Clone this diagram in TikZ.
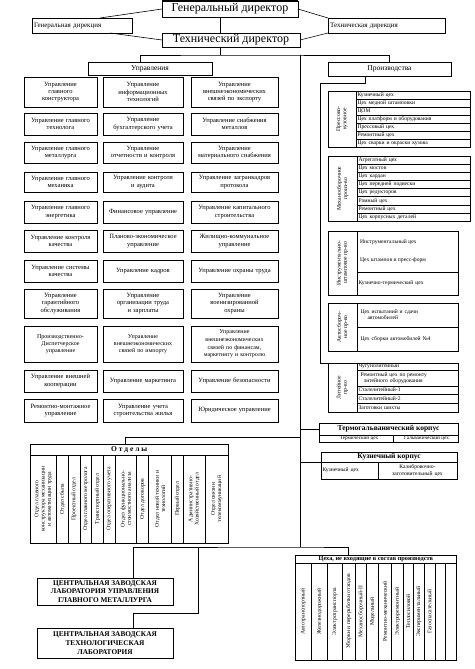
\documentclass[tikz,border=0pt]{standalone}
\usepackage{fontspec}
\setmainfont{Liberation Serif}
\newcommand\fs[2]{\fontsize{#1}{#2}\selectfont}
\tikzset{
  base/.style={draw, line width=0.6pt, inner sep=0pt, outer sep=0pt},
  mb/.style={base, line width=0.75pt, align=center, font=\fs{6.5}{7.4}},
  mca/.style={minimum width=73pt, text width=71pt},
  mcb/.style={minimum width=80pt, text width=78pt},
  mcc/.style={minimum width=87pt, text width=85pt},
  prow/.style={base, line width=0.45pt, anchor=north west, align=left, font=\fs{5.6}{6.2}, inner xsep=1.5pt},
  lcell/.style={base, line width=0.6pt, anchor=north west},
  vtext/.style={rotate=90, align=center, font=\fs{5.7}{6.3}},
  ttl/.style={base, anchor=north west, font=\bfseries\fs{7.5}{8}},
  conn/.style={line width=0.6pt},
}
\newcommand\vcol[6]{\node[lcell, line width=0.45pt, minimum width=#4, minimum height=#5] (#1) at (#2,#3) {};
  \node[vtext] at (#1.center) {#6};}
\begin{document}
\begin{tikzpicture}[x=1pt,y=-1pt]
\useasboundingbox (0,0) rectangle (474,669);
\fill[white] (0,0) rectangle (474,669);
\coordinate (vx) at (220,0);
\coordinate (ux) at (140,0);
\coordinate (sx) at (300,0);
\coordinate (px) at (365,0);
\coordinate (ox) at (125,0);
\coordinate (lx) at (133,0);
\coordinate (mx) at (198,0);
\coordinate (rx) at (348,0);
\coordinate (bus) at (220,55);
\coordinate (pk) at (320,83);
\coordinate (sp1) at (300,437);
\coordinate (sp2) at (300,547);
\coordinate (kn) at (198,613);

% top
\node[base, line width=0.8pt, minimum width=136pt, minimum height=16pt, font=\fs{12}{13}] (gd) at (230,9) {Генеральный директор};
\draw[line width=1.6pt] (gd.north west) -- (gd.north east);
\node[base, minimum width=100pt, minimum height=15pt, font=\fs{7}{8}, anchor=west, text width=96pt, inner xsep=2pt, align=left] (gdir) at (32,25.5) {Генеральная дирекция};
\node[base, minimum width=117pt, minimum height=15pt, font=\fs{7}{8}, anchor=west, text width=113pt, inner xsep=2pt, align=left] (tdir) at (328,25.5) {Техническая дирекция};
\node[base, minimum width=138pt, minimum height=14pt, font=\fs{12}{13}] (td) at (231,40) {Технический директор};
\draw[conn] (gd.west) -- ([xshift=18pt]gdir.north);
\draw[conn] ([xshift=28pt]gdir.south) -- (td.west);
\draw[conn] (gd.east) -- (tdir.north west);
\draw[conn] (tdir.south west) -- (td.east);
\draw[conn] (gd.south -| vx) -- (td.north -| vx);
\draw[conn] (td.south -| vx) -- (bus);

\node[base, minimum width=124pt, minimum height=13pt, font=\fs{7.5}{8}] (upr) at (150,68.5) {Управления};
\node[base, minimum width=123pt, minimum height=14pt, font=\fs{7.5}{8}] (prod) at (389.5,69) {Производства};
\draw[conn] (upr.north -| ux) |- (bus) -| (prod.north);
\draw[conn] (bus -| sx) -- (sp2);

% management boxes
\node[mb,mca,minimum height=30pt] (u1a) at (60.5,92) {Управление\\главного\\конструктора};
\node[mb,mcb,minimum height=30pt] (u1b) at (143,92) {Управление\\информационных\\технологий};
\node[mb,mcc,minimum height=30pt] (u1c) at (234.5,92) {Управление\\внешнеэкономических\\связей по экспорту};
\node[mb,mca,minimum height=22pt] (u2a) at (60.5,124) {Управление главного\\технолога};
\node[mb,mcb,minimum height=22pt] (u2b) at (143,124) {Управление\\бухгалтерского учета};
\node[mb,mcc,minimum height=22pt] (u2c) at (234.5,124) {Управление снабжения\\металлов};
\node[mb,mca,minimum height=21pt] (u3a) at (60.5,152.5) {Управление главного\\металлурга};
\node[mb,mcb,minimum height=21pt] (u3b) at (143,152.5) {Управление\\отчетности и контроля};
\node[mb,mcc,minimum height=21pt] (u3c) at (234.5,152.5) {Управление\\материального снабжения};
\node[mb,mca,minimum height=20pt] (u4a) at (60.5,182) {Управление главного\\механика};
\node[mb,mcb,minimum height=20pt] (u4b) at (143,182) {Управление контроля\\и аудита};
\node[mb,mcc,minimum height=20pt] (u4c) at (234.5,182) {Управление загранкадров\\протокола};
\node[mb,mca,minimum height=22pt] (u5a) at (60.5,212) {Управление главного\\энергетика};
\node[mb,mcb,minimum height=22pt] (u5b) at (143,212) {Финансовое управление};
\node[mb,mcc,minimum height=22pt] (u5c) at (234.5,212) {Управление капитального\\строительства};
\node[mb,mca,minimum height=22pt] (u6a) at (60.5,241) {Управление контроля\\качества};
\node[mb,mcb,minimum height=22pt] (u6b) at (143,241) {Планово-экономическое\\управление};
\node[mb,mcc,minimum height=22pt] (u6c) at (234.5,241) {Жилищно-коммунальное\\управление};
\node[mb,mca,minimum height=22pt] (u7a) at (60.5,271) {Управление системы\\качества};
\node[mb,mcb,minimum height=22pt] (u7b) at (143,271) {Управление кадров\\[5pt]};
\node[mb,mcc,minimum height=22pt] (u7c) at (234.5,271) {Управление охраны труда};
\node[mb,mca,minimum height=29pt] (u8a) at (60.5,303.5) {Управление\\гарантийного\\обслуживания};
\node[mb,mcb,minimum height=29pt] (u8b) at (143,303.5) {Управление\\организации труда\\и зарплаты};
\node[mb,mcc,minimum height=29pt] (u8c) at (234.5,303.5) {Управление\\военизированной\\охраны};
\node[mb,mca,minimum height=36pt,font=\fs{6}{7}] (u9a) at (60.5,344) {Производственно-\\Диспетчерское\\управление\\[6pt]};
\node[mb,mcb,minimum height=36pt,font=\fs{6}{7}] (u9b) at (143,344) {Управление\\внешнеэкономических\\связей по импорту\\[6pt]};
\node[mb,mcc,minimum height=36pt,font=\fs{6}{7.6}] (u9c) at (234.5,344) {Управление\\внешнеэкономических\\связей по финансам,\\маркетингу и контролю};
\node[mb,mca,minimum height=22pt] (u10a) at (60.5,381) {Управление внешней\\кооперации};
\node[mb,mcb,minimum height=22pt] (u10b) at (143,381) {Управление маркетинга\\[5pt]};
\node[mb,mcc,minimum height=22pt] (u10c) at (234.5,381) {Управление безопасности};
\node[mb,mca,minimum height=23pt] (u11a) at (60.5,410.5) {Ремонтно-монтажное\\управление};
\node[mb,mcb,minimum height=23pt] (u11b) at (143,410.5) {Управление учета\\строительства жилья};
\node[mb,mcc,minimum height=23pt] (u11c) at (234.5,410.5) {Юридическое управление\\[5pt]};

% production groups
\node[lcell, minimum width=28pt, minimum height=56pt] (ga) at (328,91) {};
\node[vtext] at (ga.center) {Прессово-\\кузовное};
\foreach \t [count=\i from 0] in {Кузнечный цех,Цех медной штамповки,ЦОМ,Цех платформ и оборудования,Прессовый цех,Ремонтный цех,Цех сварки и окраски кузова}
  \node[prow, text width=111pt, minimum width=114pt, minimum height=8pt] (pa\i) at (356,{91+8*\i}) {\t};

\node[lcell, minimum width=29pt, minimum height=65pt] (gb) at (328,156) {};
\node[vtext] at (gb.center) {Механосборочное\\произ-во};
\foreach \t [count=\i from 0] in {Агрегатный цех,Цех мостов,Цех кардан,Цех передней подвески,Цех редукторов,Рамный цех,Ремонтный цех,Цех корпусных деталей}
  \node[prow, text width=110pt, minimum width=113pt, minimum height=8.125pt] (pb\i) at (357,{156+8.125*\i}) {\t};

\node[lcell, minimum width=29pt, minimum height=64pt] (gc) at (328,231) {};
\node[vtext] at (gc.center) {Инструментально-\\штамповое пр-во};
\node[prow, text width=98pt, minimum width=101pt, minimum height=41pt] (pc0) at (357,231) {};
\node[font=\fs{5.6}{6.2}, anchor=west, inner sep=0pt] (pc0a) at (360,242) {Инструментальный цех};
\node[font=\fs{5.6}{6.2}, anchor=west, inner sep=0pt] (pc0b) at (360,260) {Цех штампов и пресс-форм};
\node[prow, text width=98pt, minimum width=101pt, minimum height=23pt] (pc1) at (357,272) {Кузнечно-термический цех};

\node[lcell, minimum width=29pt, minimum height=48pt] (gdd) at (328,303) {};
\node[vtext] at (gdd.center) {Автосбороч-\\ное пр-во};
\node[prow, text width=98pt, minimum width=101pt, minimum height=24pt] (pd0) at (357,303) {\hspace*{2pt}Цех испытаний и сдачи\\\hspace*{9pt}автомобилей};
\node[prow, text width=98pt, minimum width=101pt, minimum height=24pt] (pd1) at (357,327) {\hspace*{2pt}Цех сборки автомобилей №4};

\node[lcell, minimum width=29pt, minimum height=49pt] (ge) at (328,363) {};
\node[vtext] at (ge.center) {Литейное\\пр-во};
\node[prow, text width=98pt, minimum width=101pt, minimum height=7pt] (pe0) at (357,363) {Чугунолитейный};
\node[prow, text width=98pt, minimum width=101pt, minimum height=16pt] (pe1) at (357,370) {\hspace*{2pt}Ремонтный цех по ремонту\\\hspace*{5pt}литейного оборудования};
\node[prow, text width=98pt, minimum width=101pt, minimum height=8pt] (pe2) at (357,386) {Сталелитейный-1};
\node[prow, text width=98pt, minimum width=101pt, minimum height=9pt] (pe3) at (357,394) {Сталелитейный-2};
\node[prow, text width=98pt, minimum width=101pt, minimum height=9pt] (pe4) at (357,403) {Заготовки шихты};

\draw[conn] (prod.south -| px) |- (pk) |- (ge.north west);

% thermo and forge buildings
\node[ttl, minimum width=139pt, minimum height=12pt] (tgt) at (319,423) {Термогальванический корпус};
\node[prow, minimum width=74pt, minimum height=7pt, font=\fs{5.2}{5.5}] (tg1) at (319,435) {\hspace*{6pt}Термический цех};
\node[prow, minimum width=65pt, minimum height=7pt, font=\fs{5.2}{5.5}] (tg2) at (393,435) {\hspace*{2pt}Гальванический цех};
\draw[conn] (tgt.west -| sx) -- (tgt.west);

\node[ttl, minimum width=136pt, minimum height=10pt] (kzt) at (321,452) {Кузнечный корпус};
\node[prow, minimum width=57pt, minimum height=17pt, text width=54pt, font=\fs{5.6}{6}] (kz1) at (321,462) {Кузнечный цех\\[5pt]};
\node[prow, minimum width=79pt, minimum height=17pt, text width=76pt, align=center, font=\fs{5.6}{6.5}] (kz2) at (378,462) {Калибровочно-\\заготовительный цех};
\draw[conn] (kzt.south west -| sx) -- (kzt.south west);

% departments
\node[ttl, minimum width=198.3pt, minimum height=11pt] (ot) at (30,444) {О т д е л ы};
\draw[conn] (sp1) -| (ot.north -| ox);
\vcol{o1}{30}{455}{26.7pt}{88pt}{Отдел главного\\конструктора механизации\\и автоматизации труда}
\vcol{o2}{56.7}{455}{11.6pt}{88pt}{Отдел сбыта}
\vcol{o3}{68.3}{455}{11.7pt}{88pt}{Проектный отдел}
\vcol{o4}{80}{455}{11.7pt}{88pt}{Отдел главного метролога}
\vcol{o5}{91.7}{455}{11.6pt}{88pt}{Транспортный отдел}
\vcol{o6}{103.3}{455}{11.7pt}{88pt}{Отдел оперативного учета}
\vcol{o7}{115}{455}{21.7pt}{88pt}{Отдел функционально-\\стоимостного анализа}
\vcol{o8}{136.7}{455}{11.6pt}{88pt}{Отдел договоров}
\vcol{o9}{148.3}{455}{23.4pt}{88pt}{Отдел новой техники и\\технологий}
\vcol{o10}{171.7}{455}{11.6pt}{88pt}{Первый отдел}
\vcol{o11}{183.3}{455}{21.7pt}{88pt}{Административно-\\Хозяйственный отдел}
\vcol{o12}{205}{455}{23.3pt}{88pt}{Отдел связи и\\телекоммуникаций}

% laboratories
\node[base, minimum width=136pt, minimum height=27pt, align=center, font=\bfseries\fs{7.3}{8.8}] (cz1) at (105,591.5) {ЦЕНТРАЛЬНАЯ ЗАВОДСКАЯ\\ЛАБОРАТОРИЯ УПРАВЛЕНИЯ\\ГЛАВНОГО МЕТАЛЛУРГА};
\node[base, minimum width=136pt, minimum height=30pt, align=center, font=\bfseries\fs{7.3}{9}] (cz2) at (105,643) {ЦЕНТРАЛЬНАЯ ЗАВОДСКАЯ\\ТЕХНОЛОГИЧЕСКАЯ\\ЛАБОРАТОРИЯ};

% shops outside productions
\node[ttl, minimum width=161.7pt, minimum height=8pt, font=\bfseries\fs{6.3}{7}] (ce) at (295,555) {Цеха, не входящие в состав производств};
\vcol{c1}{295}{563}{16.7pt}{97pt}{Автотранспортный}
\vcol{c2}{311.7}{563}{15.6pt}{97pt}{Железнодорожный}
\vcol{c3}{327.3}{563}{15pt}{97pt}{Электротранспорта}
\vcol{c4}{342.3}{563}{12.7pt}{97pt}{Уборки и переработки отходов}
\vcol{c5}{355}{563}{11.7pt}{97pt}{Механосборочный-II}
\vcol{c6}{366.7}{563}{11.6pt}{97pt}{Модельный}
\vcol{c7}{378.3}{563}{13.4pt}{97pt}{Ремонтно-механический}
\vcol{c8}{391.7}{563}{11.6pt}{97pt}{Электроремонтный}
\vcol{c9}{403.3}{563}{10pt}{97pt}{Теплосиловой}
\vcol{c10}{413.3}{563}{10.7pt}{97pt}{Экспериментальный}
\vcol{c11}{424}{563}{11pt}{97pt}{Газоспасательный}
\vcol{c12}{435}{563}{10.7pt}{97pt}{}
\vcol{c13}{445.7}{563}{11pt}{97pt}{}

% bottom connectors
\draw[conn] (cz1.north -| lx) |- (sp2) -| (ce.north -| rx);
\draw[conn] (sp2 -| mx) -- (kn) -| (cz2.north -| lx);
\end{tikzpicture}
\end{document}
